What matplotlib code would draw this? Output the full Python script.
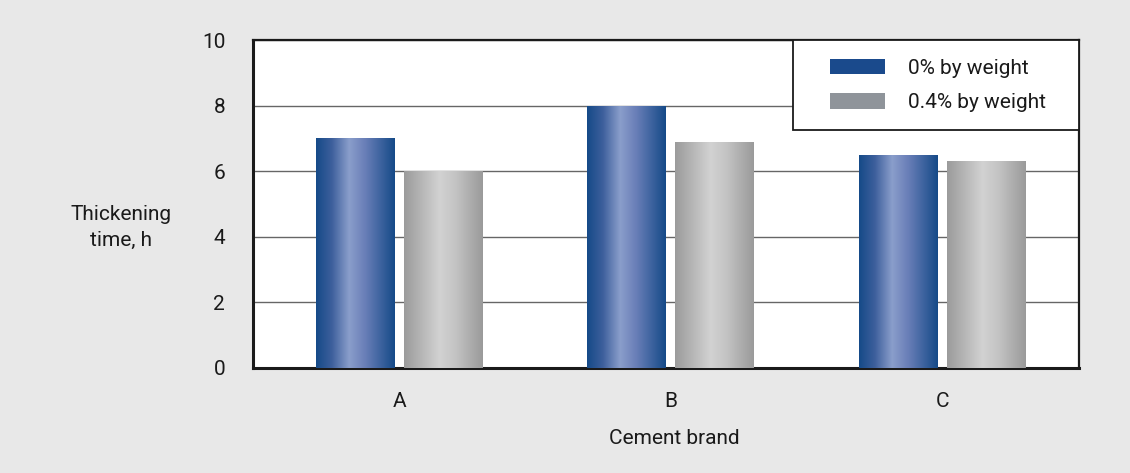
import numpy as np
import matplotlib
matplotlib.use("Agg")
import matplotlib.pyplot as plt
from matplotlib.colors import LinearSegmentedColormap
from matplotlib.patches import Patch, Rectangle

plt.rcParams['font.family'] = ['Roboto', 'DejaVu Sans']

brands = ['A', 'B', 'C']
series_names = ['0% by weight', '0.4% by weight']
thick_0 = [7.0, 8.0, 6.5]
thick_04 = [6.0, 6.9, 6.3]

bg = '#e8e8e8'
ink = '#1a1a1a'
blue_cmap = LinearSegmentedColormap.from_list(
    'bl', [(0, '#154a88'), (0.2, '#3d5f9c'), (0.42, '#8a9ecb'), (0.62, '#6a7fb8'), (1, '#154a88')])
gray_cmap = LinearSegmentedColormap.from_list(
    'gr', [(0, '#9b9b9b'), (0.45, '#d2d2d2'), (0.65, '#c4c4c4'), (1, '#9a9a9a')])

fig = plt.figure(figsize=(11.3, 4.73), dpi=100, facecolor=bg)
ax = fig.add_axes([0.2239, 0.222, 0.731, 0.6934])

x = np.arange(len(brands))
w = 0.29
off = 0.162
grad = np.linspace(0, 1, 256).reshape(1, -1)

def draw_bars(xpos, vals, cmap):
    bars = ax.bar(xpos, vals, w, color='none', edgecolor='none', zorder=3)
    for b in bars:
        x0, y0 = b.get_x(), b.get_y()
        im = ax.imshow(grad, cmap=cmap, aspect='auto', zorder=3,
                       extent=(x0, x0 + b.get_width(), y0, y0 + b.get_height()))
        im.set_clip_path(b)

draw_bars(x - off, thick_0, blue_cmap)
draw_bars(x + off, thick_04, gray_cmap)

ax.set_xlim(-0.54, 2.505)
ax.set_ylim(0, 10)
ax.set_yticks([0, 2, 4, 6, 8, 10])
ax.set_xticks(x)
ax.set_xticklabels(brands)
ax.grid(axis='y', color='#666666', linewidth=1.0, zorder=1)
ax.set_axisbelow(True)
ax.tick_params(axis='both', length=0, labelsize=15, colors=ink)
ax.tick_params(axis='y', pad=20)
ax.tick_params(axis='x', pad=17)
for side in ['left', 'bottom']:
    ax.spines[side].set_linewidth(2.2)
for side in ['top', 'right']:
    ax.spines[side].set_linewidth(1.6)
for s in ax.spines.values():
    s.set_color(ink)

ax.set_xlabel('Cement brand', fontsize=15, color=ink)
ax.xaxis.set_label_coords(0.51, -0.185)
fig.text(0.107, 0.52, 'Thickening\ntime, h', fontsize=15, ha='center', va='center',
         color=ink, linespacing=1.45)

# legend frame drawn by hand so its padding can match the original
ax.add_patch(Rectangle((0.654, 0.726), 0.346, 0.274, transform=ax.transAxes,
                       facecolor='white', edgecolor=ink, linewidth=1.3,
                       zorder=4, clip_on=False))
handles = [Patch(facecolor='#1a4a8c', edgecolor='none'),
           Patch(facecolor='#8f949a', edgecolor='none')]
leg = ax.legend(handles, series_names, loc='upper left', bbox_to_anchor=(0.6985, 0.943),
                borderaxespad=0, borderpad=0, frameon=False, fontsize=15,
                handlelength=2.65, handleheight=0.77, handletextpad=1.1,
                labelspacing=0.75)
leg.set_zorder(5)
for t in leg.get_texts():
    t.set_color(ink)

fig.savefig('out.png', dpi=100, facecolor=bg)
